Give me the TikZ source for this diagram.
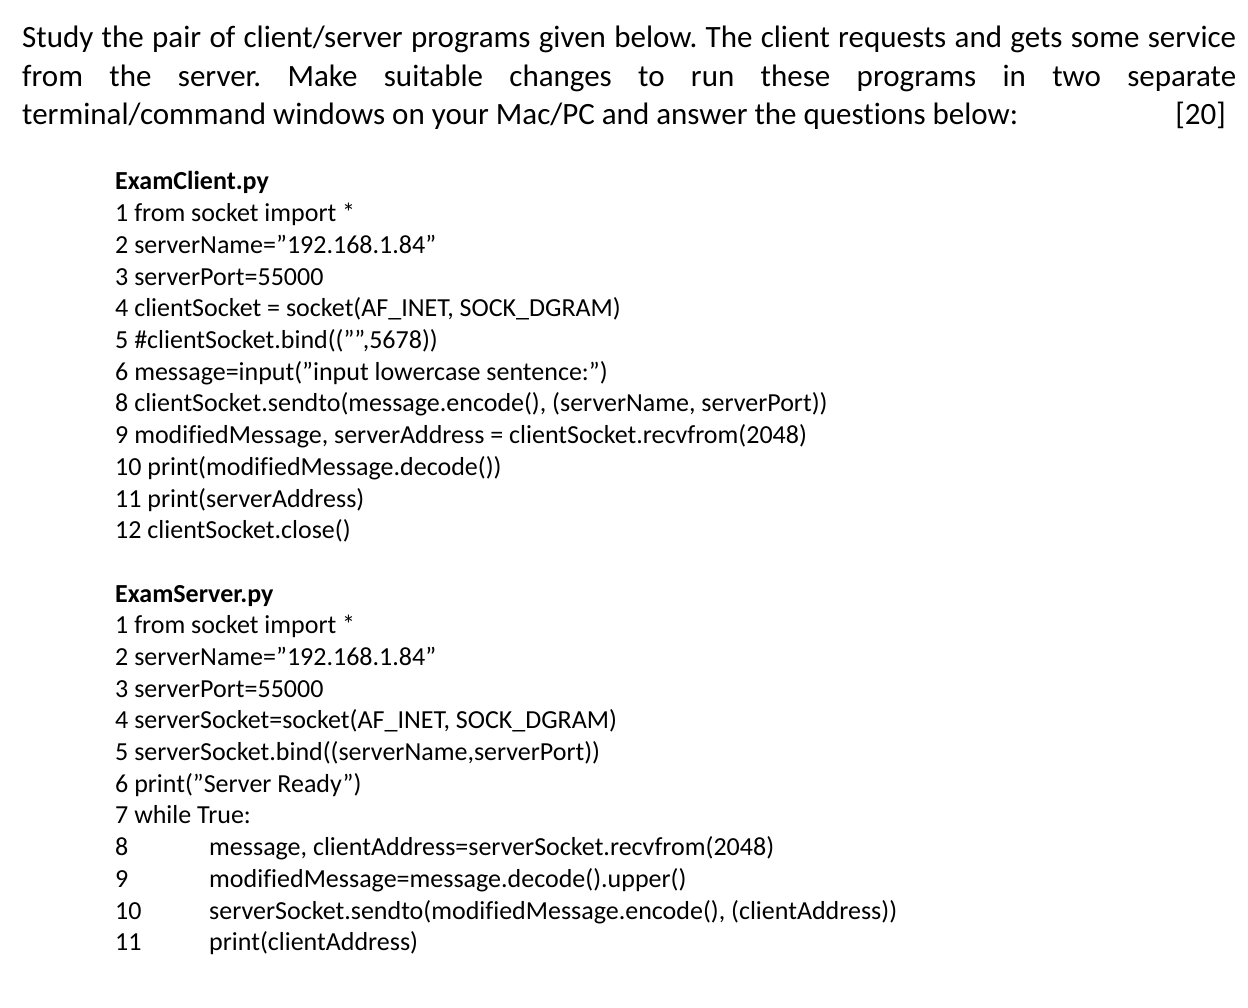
\documentclass[tikz,border=0pt]{standalone}
\usepackage{fontspec}
\setmainfont{Carlito}[Ligatures={NoCommon}]
\newcommand{\q}{\char"22\relax}
\begin{document}
\frenchspacing
\begin{tikzpicture}[x=1pt,y=-1pt,
  para/.style={anchor=base west,inner sep=0pt,font=\fontsize{31}{36}\selectfont},
  code/.style={anchor=base west,inner sep=0pt,font=\fontsize{26}{30}\selectfont}]
\useasboundingbox[fill=white] (0,0) rectangle (1248,1008);
\node[para] (p1) at (22,48) {\makebox[1214pt][s]{Study the pair of client/server programs given below. The client requests and gets some service}};
\node[para] (p2) at (22,87) {\makebox[1214pt][s]{from the server. Make suitable changes to run these programs in two separate}};
\node[para] (p3) at (22,125) {terminal/command windows on your Mac/PC and answer the questions below:};
\node[para,anchor=base east] (p4) at (1226,125) {[20]};
\node[code,font=\fontsize{26}{30}\selectfont\bfseries] (ch) at (115,190) {ExamClient.py};
\foreach \t [count=\i] in {
 {1 from socket import *},
 {2 serverName=\q192.168.1.84\q},
 {3 serverPort=55000},
 {4 clientSocket = socket(AF\_INET, SOCK\_DGRAM)},
 {5 \#clientSocket.bind((\q\q,5678))},
 {6 message=input(\q input lowercase sentence:\q)},
 {8 clientSocket.sendto(message.encode(), (serverName, serverPort))},
 {9 modifiedMessage, serverAddress = clientSocket.recvfrom(2048)},
 {10 print(modifiedMessage.decode())},
 {11 print(serverAddress)},
 {12 clientSocket.close()}}
 \node[code] (c\i) at (115,{190+31.7*\i}) {\t};
\node[code,font=\fontsize{26}{30}\selectfont\bfseries] (sh) at (115,602) {ExamServer.py};
\foreach \t [count=\i] in {
 {1 from socket import *},
 {2 serverName=\q192.168.1.84\q},
 {3 serverPort=55000},
 {4 serverSocket=socket(AF\_INET, SOCK\_DGRAM)},
 {5 serverSocket.bind((serverName,serverPort))},
 {6 print(\q Server Ready\q)},
 {7 while True:}}
 \node[code] (s\i) at (115,{602+31.7*\i}) {\t};
\foreach \t [count=\i from 8] in {
 {message, clientAddress=serverSocket.recvfrom(2048)},
 {modifiedMessage=message.decode().upper()},
 {serverSocket.sendto(modifiedMessage.encode(), (clientAddress))},
 {print(clientAddress)}}
 {\node[code] (n\i) at (115,{602+31.7*\i}) {\i};
  \node[code] (s\i) at (209,{602+31.7*\i}) {\t};}
\end{tikzpicture}
\end{document}
